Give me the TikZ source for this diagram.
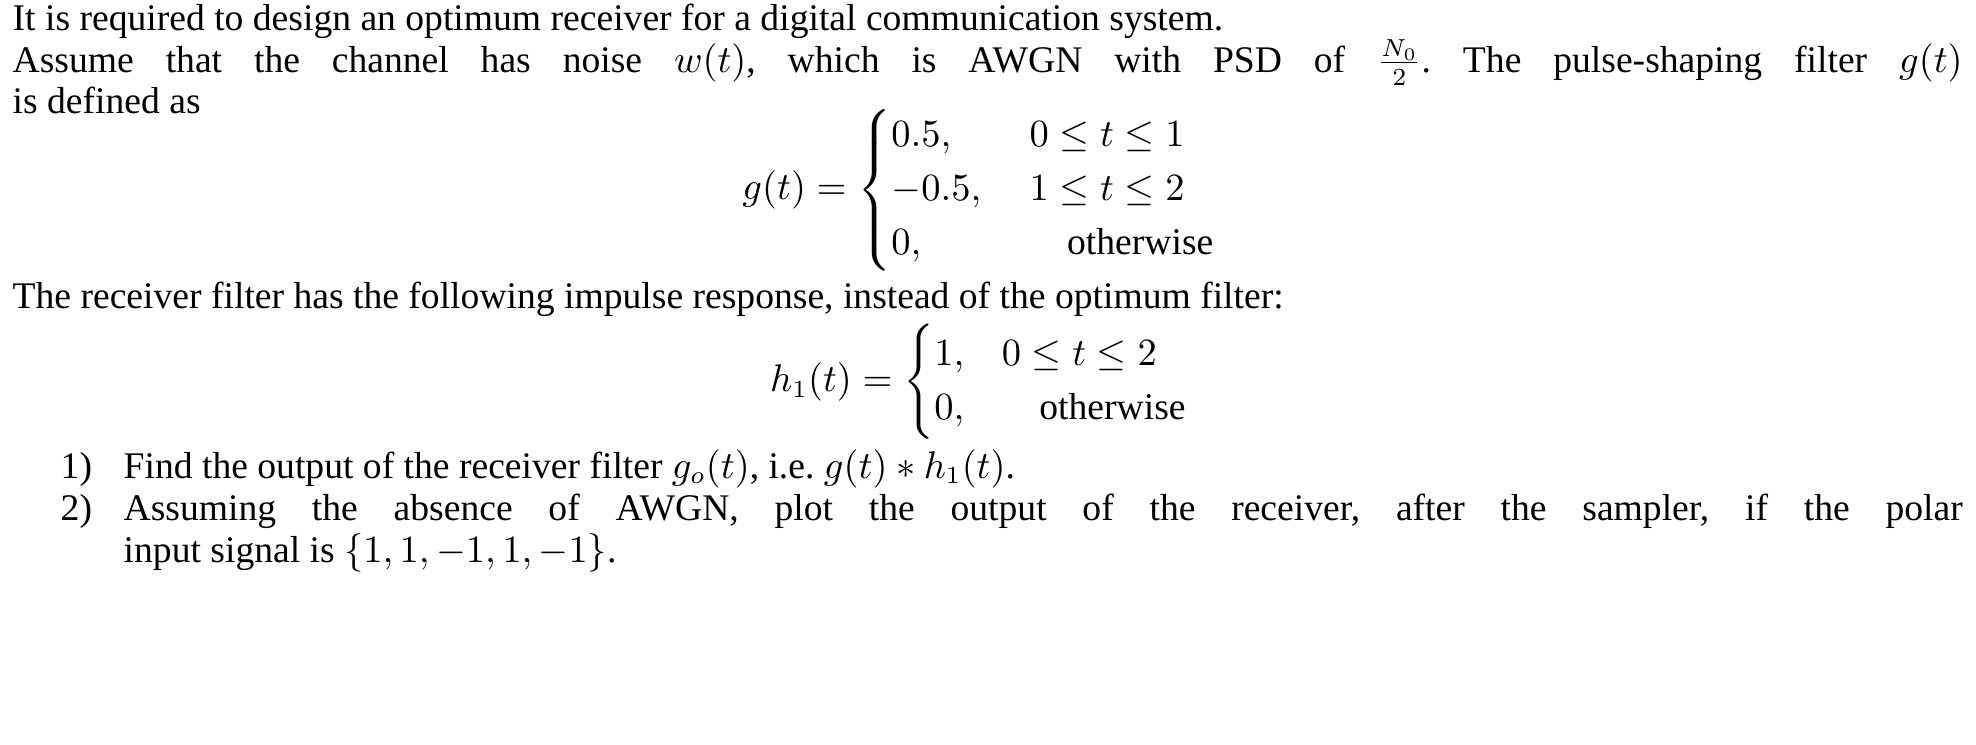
\documentclass[tikz,border=0pt]{standalone}
\usepackage{amsmath}
\usepackage{fontspec}
\setmainfont{Liberation Serif}
\frenchspacing
\begin{document}
\begin{tikzpicture}[x=1cm,y=1cm,
  txt/.style={anchor=base west,inner sep=0pt,font=\fontsize{10.7}{12.8}\selectfont},
  eq/.style={anchor=center,inner sep=0pt,font=\fontsize{10.7}{12.8}\selectfont}]
\useasboundingbox (0,0) rectangle (19.76,-7.44);
\node[txt] (l1) at (0.12,-0.30) {It is required to design an optimum receiver for a digital communication system.};
\node[txt] (l2) at (0.12,-0.72) {\makebox[19.50cm][s]{Assume that the channel has noise $w(t)$, which is AWGN with PSD of $\frac{N_0}{2}$. The pulse-shaping filter $g(t)$}};
\node[txt] (l3) at (0.12,-1.13) {is defined as};
\node[eq] (eqg) at (9.8,-1.90)
 {$g(t)=\begin{cases}0.5, & \;0\le t\le 1\\ -0.5, & \;1\le t\le 2\\ 0, & \quad\;\text{otherwise}\end{cases}$};
\node[txt] (l4) at (0.12,-3.08) {The receiver filter has the following impulse response, instead of the optimum filter:};
\node[eq] (eqh) at (9.8,-3.82)
 {$h_1(t)=\begin{cases}1, & 0\le t\le 2\\ 0, & \quad\text{otherwise}\end{cases}$};
\node[txt] (i1n) at (0.6,-4.78) {1)};
\node[txt] (i1) at (1.23,-4.78) {Find the output of the receiver filter $g_o(t)$, i.e. $g(t)*h_1(t)$.};
\node[txt] (i2n) at (0.6,-5.20) {2)};
\node[txt] (i2) at (1.23,-5.20) {\makebox[18.39cm][s]{Assuming the absence of AWGN, plot the output of the receiver, after the sampler, if the polar}};
\node[txt] (i3) at (1.23,-5.62) {input signal is $\{1,1,-1,1,-1\}$.};
\end{tikzpicture}
\end{document}
